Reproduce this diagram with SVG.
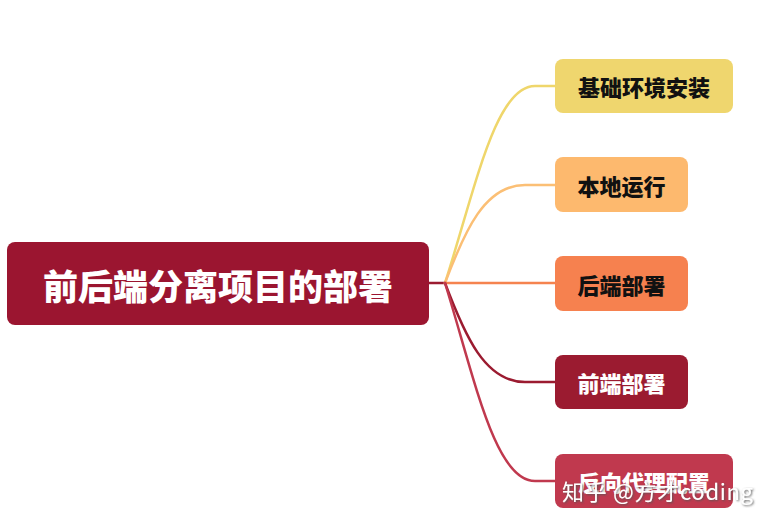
<svg xmlns="http://www.w3.org/2000/svg" width="773" height="527" viewBox="0 0 773 527">
<style>
.lbl{font-family:"Noto Sans CJK SC","Liberation Sans",sans-serif;font-weight:900;text-anchor:middle;dominant-baseline:central}
.c{fill:none;stroke-width:2.5;stroke-linecap:round}
.wm{font-family:"Noto Sans CJK SC","Liberation Sans",sans-serif;font-size:22px;fill:#ffffff}
</style>
<defs>
<filter id="sh" x="-10%" y="-30%" width="120%" height="160%">
<feDropShadow dx="1" dy="1" stdDeviation="0.8" flood-color="#555" flood-opacity="0.9"/>
</filter>
</defs>
<rect width="773" height="527" fill="#ffffff"/>
<g id="connectors">
<path class="c" d="M429 283 H445" stroke="#9B1B30" stroke-width="3"/>
<path class="c" d="M445 283 C475 190 495 86 535 86 H555" stroke="#EFD66B"/>
<path class="c" d="M445 283 C465 230 485 185 525 185 H555" stroke="#FBBF75"/>
<path class="c" d="M445 283 H555" stroke="#F5834F"/>
<path class="c" d="M445 283 C465 336 485 382 525 382 H555" stroke="#9B1B30"/>
<path class="c" d="M445 283 C475 380 495 481 535 481 H555" stroke="#C0394E"/>
</g>
<g id="root">
<rect x="7" y="242" width="422" height="83" rx="8" fill="#9B1530"/>
<text class="lbl" x="218" y="284" font-size="35" fill="#ffffff">前后端分离项目的部署</text>
</g>
<g id="n1">
<rect x="555" y="59" width="178" height="54" rx="8" fill="#EFD66E"/>
<text class="lbl" x="644" y="86" font-size="22" fill="#111">基础环境安装</text>
</g>
<g id="n2">
<rect x="555" y="157" width="133" height="55" rx="8" fill="#FDB96E"/>
<text class="lbl" x="621.5" y="185" font-size="22" fill="#111">本地运行</text>
</g>
<g id="n3">
<rect x="555" y="256" width="133" height="55" rx="8" fill="#F6814F"/>
<text class="lbl" x="621.5" y="284" font-size="22" fill="#111">后端部署</text>
</g>
<g id="n4">
<rect x="555" y="355" width="133" height="54" rx="8" fill="#9B1B30"/>
<text class="lbl" x="621.5" y="382" font-size="22" fill="#ffffff">前端部署</text>
</g>
<g id="n5">
<rect x="555" y="454" width="178" height="54" rx="8" fill="#C0394E"/>
<text class="lbl" x="644" y="481" font-size="22" fill="#ffffff">反向代理配置</text>
</g>
<text class="wm" x="562" y="500" textLength="191" lengthAdjust="spacing" filter="url(#sh)">知乎 @方才coding</text>
</svg>
